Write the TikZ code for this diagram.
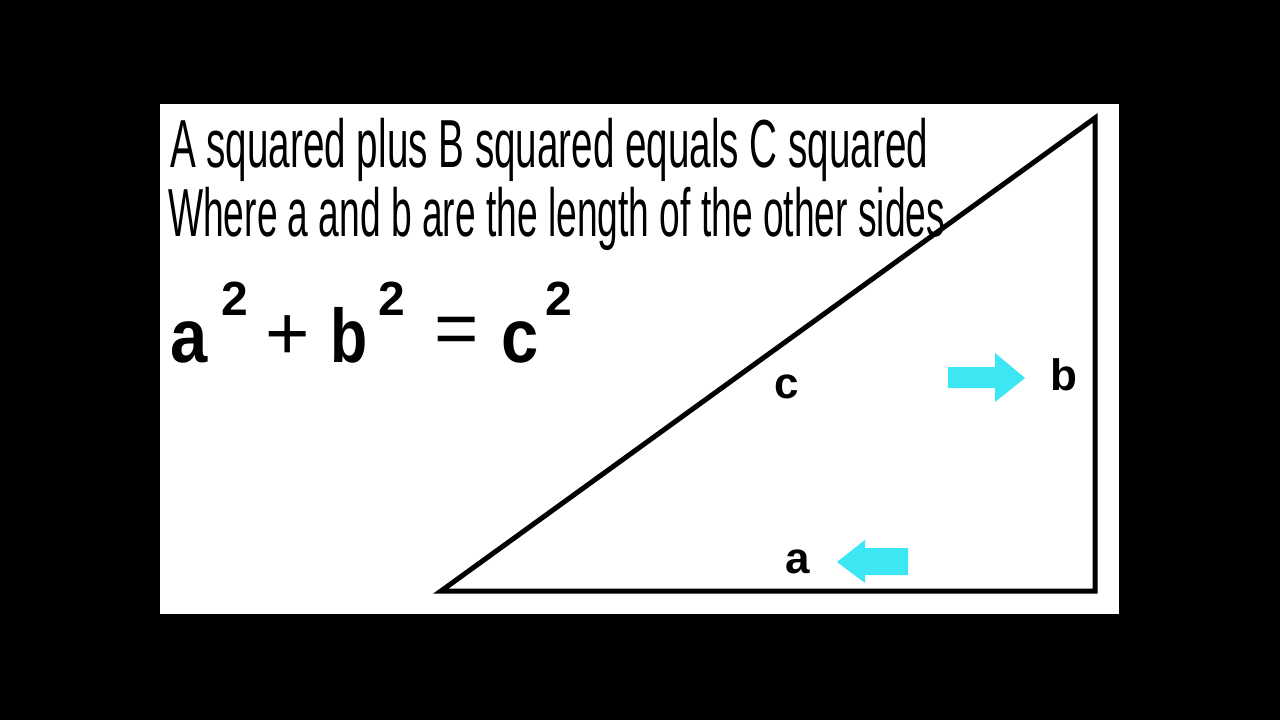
\documentclass[tikz,border=0pt]{standalone}
\usepackage{fontspec}
\usepackage{graphicx}
\setmainfont{Liberation Sans}
\definecolor{arrowcyan}{RGB}{60,230,242}
\tikzset{
  hand/.style={anchor=base west, inner sep=0pt, font=\fontsize{68}{68}\selectfont},
  eqbig/.style={anchor=base west, inner sep=0pt, font=\fontsize{76}{76}\selectfont\bfseries},
  eqsup/.style={anchor=base west, inner sep=0pt, font=\fontsize{48}{48}\selectfont\bfseries},
  eqop/.style={anchor=base west, inner sep=0pt, font=\fontsize{76}{76}\selectfont},
  sidelabel/.style={anchor=base west, inner sep=0pt, font=\fontsize{44}{44}\selectfont\bfseries},
  tri/.style={line width=5pt, line join=miter},
  cyanarrow/.style={fill=arrowcyan}
}
\begin{document}
\begin{tikzpicture}[x=1pt,y=-1pt]
\useasboundingbox (0,0) rectangle (1280,720);
\fill[black] (0,0) rectangle (1280,720);
\fill[white] (160,104) rectangle (1119,614);
% text
\node[hand] (line1) at (170,167) {\resizebox{758pt}{\height}{A squared plus B squared equals C squared}};
\node[hand] (line2) at (168,236) {\resizebox{777pt}{\height}{Where a and b are the length of the other sides}};
% equation
\node[eqbig] (ea) at (170,362) {\scalebox{0.88}[1]{a}};
\node[eqsup] (s1) at (221,315) {2};
\node[eqop] (plus) at (265,359) {+};
\node[eqbig] (eb) at (330,362) {\scalebox{0.8}[1]{b}};
\node[eqsup] (s2) at (378,315) {2};
\node[eqop] (eq) at (434,354) {=};
\node[eqbig] (ec) at (501,362) {\scalebox{0.88}[1]{c}};
\node[eqsup] (s3) at (545,315) {2};
% triangle
\coordinate (A) at (441,591);
\coordinate (B) at (1095,591);
\coordinate (C) at (1095,118);
\draw[tri] (A) -- (B) -- (C) -- cycle;
% labels
\node[sidelabel] (lc) at (774,398) {c};
\node[sidelabel] (lb) at (1050,390) {b};
\node[sidelabel] (la) at (785,573) {a};
% arrows
\fill[cyanarrow] (948,367) -- (995,367) -- (995,353) -- (1025,378) -- (995,402) -- (995,388) -- (948,388) -- cycle;
\fill[cyanarrow] (908,548) -- (865,548) -- (865,540) -- (837,562) -- (865,583) -- (865,575) -- (908,575) -- cycle;
\end{tikzpicture}
\end{document}
